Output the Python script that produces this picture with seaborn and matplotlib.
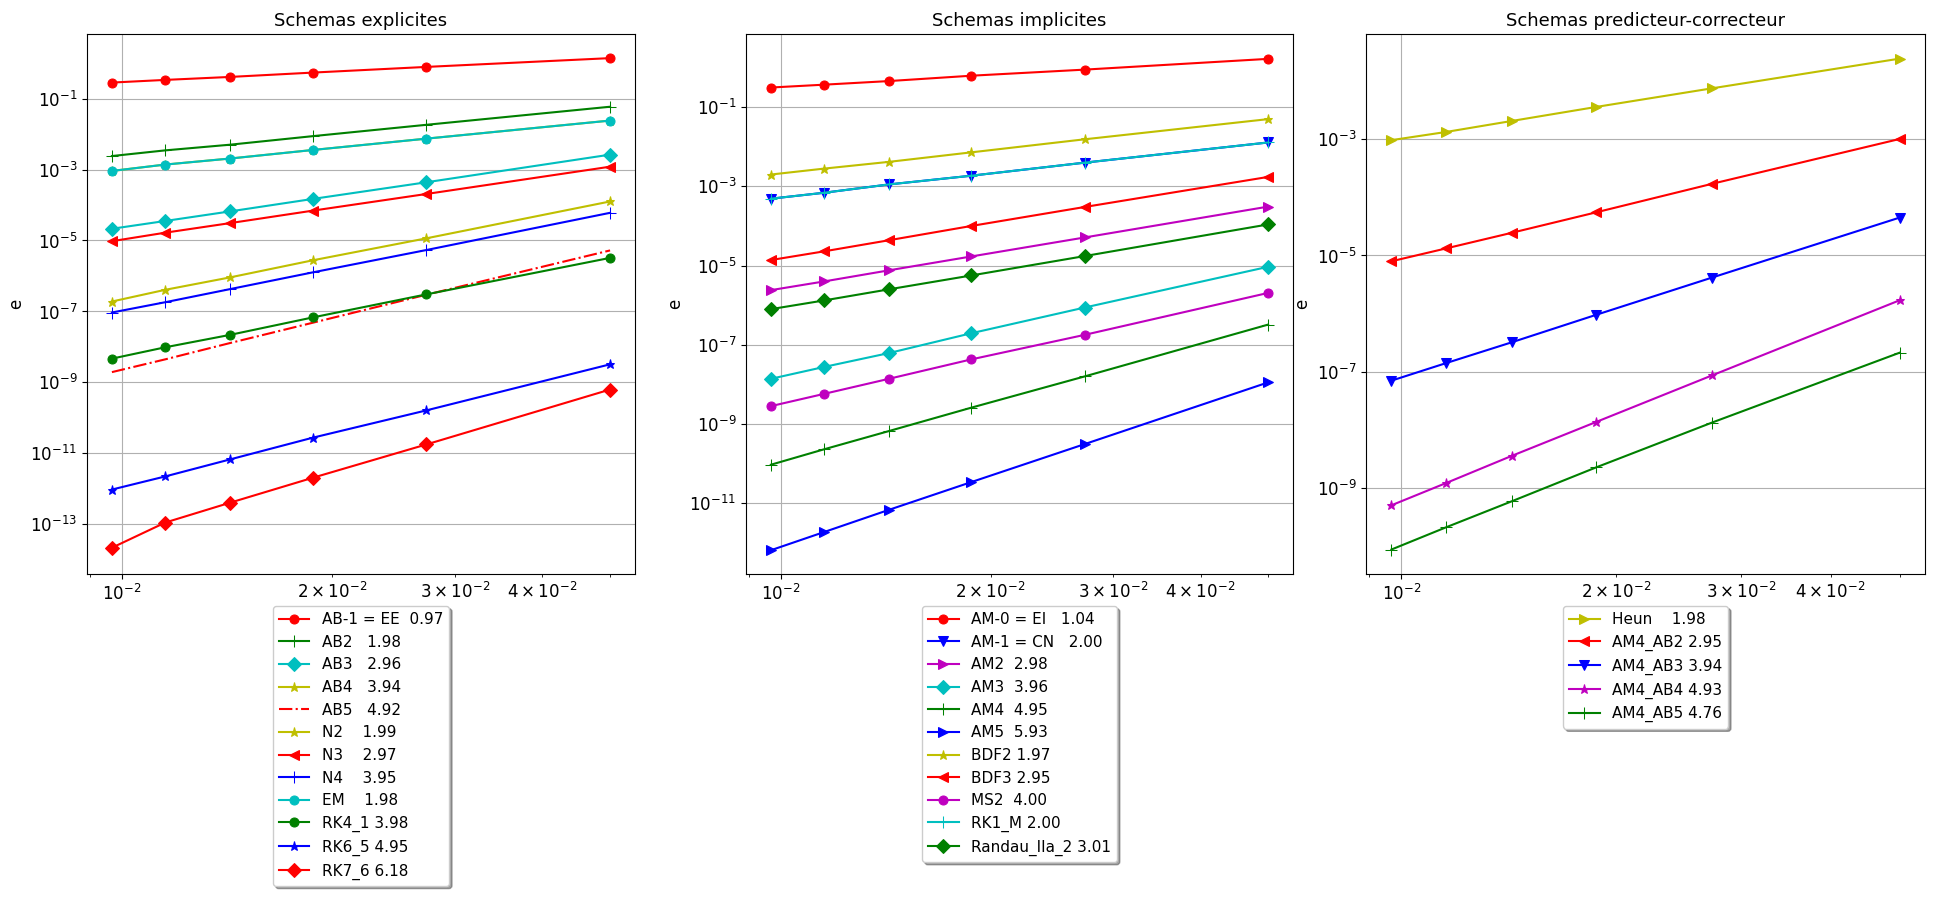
import numpy as np
import pandas as pd
import matplotlib
matplotlib.use("Agg")
import matplotlib.pyplot as plt
import seaborn as sns
from matplotlib.ticker import FixedLocator, NullLocator

h = [0.00968, 0.01154, 0.01429, 0.01875, 0.02727, 0.05]

# panel 1 : log10 of errors
exp_labels = ["AB-1 = EE  0.97", "AB2   1.98", "AB3   2.96", "AB4   3.94", "AB5   4.92",
              "N2    1.99", "N3    2.97", "N4    3.95", "EM    1.98", "RK4_1 3.98",
              "RK6_5 4.95", "RK7_6 6.18"]
exp_logs = [
    [-0.549, -0.474, -0.39, -0.268, -0.108, 0.14],
    [-2.62, -2.46, -2.30, -2.06, -1.74, -1.23],
    [-4.67, -4.45, -4.18, -3.83, -3.36, -2.58],
    [-3.04, -2.86, -2.69, -2.45, -2.13, -1.62],
    [-8.71, -8.35, -7.89, -7.32, -6.53, -5.28],
    [-6.72, -6.39, -6.04, -5.56, -4.94, -3.90],
    [-5.02, -4.78, -4.51, -4.16, -3.69, -2.92],
    [-7.03, -6.74, -6.37, -5.90, -5.27, -4.22],
    [-3.04, -2.86, -2.69, -2.45, -2.13, -1.62],
    [-8.33, -8.01, -7.66, -7.17, -6.52, -5.49],
    [-12.02, -11.65, -11.17, -10.56, -9.79, -8.49],
    [-13.66, -12.95, -12.39, -11.69, -10.75, -9.20],
]
exp_styles = [("r", "o", "-"), ("g", "+", "-"), ("c", "D", "-"), ("y", "*", "-"), ("r", None, "-."),
              ("y", "*", "-"), ("r", "<", "-"), ("b", "+", "-"), ("c", "o", "-"), ("g", "o", "-"),
              ("b", "*", "-"), ("r", "D", "-")]

imp_labels = ["AM-0 = EI   1.04", "AM-1 = CN   2.00", "AM2  2.98", "AM3  3.96", "AM4  4.95",
              "AM5  5.93", "BDF2 1.97", "BDF3 2.95", "MS2  4.00", "RK1_M 2.00", "Randau_IIa_2 3.01"]
imp_logs = [
    [-0.502, -0.430, -0.339, -0.204, -0.050, 0.222],
    [-3.31, -3.16, -2.95, -2.73, -2.40, -1.89],
    [-5.62, -5.40, -5.12, -4.77, -4.29, -3.51],
    [-7.86, -7.56, -7.21, -6.71, -6.06, -5.03],
    [-10.03, -9.64, -9.18, -8.59, -7.80, -6.49],
    [-12.19, -11.73, -11.17, -10.47, -9.51, -7.95],
    [-2.70, -2.55, -2.38, -2.14, -1.81, -1.30],
    [-4.86, -4.64, -4.36, -4.00, -3.52, -2.76],
    [-8.55, -8.24, -7.86, -7.37, -6.75, -5.69],
    [-3.31, -3.16, -2.95, -2.73, -2.40, -1.89],
    [-6.10, -5.88, -5.60, -5.25, -4.76, -3.96],
]
imp_styles = [("r", "o", "-"), ("b", "v", "-"), ("m", ">", "-"), ("c", "D", "-"), ("g", "+", "-"),
              ("b", ">", "-"), ("y", "*", "-"), ("r", "<", "-"), ("m", "o", "-"), ("c", "+", "-"),
              ("g", "D", "-")]

pc_labels = ["Heun    1.98", "AM4_AB2 2.95", "AM4_AB3 3.94", "AM4_AB4 4.93", "AM4_AB5 4.76"]
pc_logs = [
    [-3.02, -2.88, -2.69, -2.45, -2.13, -1.62],
    [-5.10, -4.88, -4.61, -4.26, -3.77, -3.00],
    [-7.15, -6.85, -6.49, -6.02, -5.38, -4.35],
    [-9.29, -8.91, -8.44, -7.86, -7.06, -5.77],
    [-10.05, -9.67, -9.22, -8.64, -7.87, -6.67],
]
pc_styles = [("y", ">", "-"), ("r", "<", "-"), ("b", "v", "-"), ("m", "*", "-"), ("g", "+", "-")]

titles = ["Schemas explicites", "Schemas implicites", "Schemas predicteur-correcteur"]
ylims = [(0.82, -14.4), (0.85, -12.79), (-1.197, -10.47)]
yticks = [np.arange(-13, 0, 2), np.arange(-11, 0, 2), np.arange(-9, -2, 2)]

plt.rcParams["font.size"] = 12
fig = plt.figure(figsize=(19.57, 9.06), dpi=100)
boxes = [(87, 635), (746, 1293), (1366, 1925)]
W, H = 1957, 906
axes = []
for (x0, x1) in boxes:
    axes.append(fig.add_axes([x0 / W, 1 - 574 / H, (x1 - x0) / W, (574 - 34) / H]))

groups = [(exp_labels, exp_logs, exp_styles), (imp_labels, imp_logs, imp_styles),
          (pc_labels, pc_logs, pc_styles)]
for i, (ax, (labels, logs, styles)) in enumerate(zip(axes, groups)):
    for lab, lg, (c, m, ls) in zip(labels, logs, styles):
        df = pd.DataFrame({"h": h, "e": 10.0 ** np.array(lg)})
        ms = 7 if m == "D" else (8 if m == "+" else 6.5)
        sns.lineplot(data=df, x="h", y="e", ax=ax, color=c, marker=m if m else "",
                     linestyle=ls, label=lab, markersize=ms, markeredgecolor=c,
                     linewidth=1.5, legend=False)
    ax.set_xscale("log")
    ax.set_yscale("log")
    ax.set_ylim(10 ** ylims[i][1], 10 ** ylims[i][0])
    ax.yaxis.set_major_locator(FixedLocator(10.0 ** yticks[i]))
    ax.yaxis.set_minor_locator(NullLocator())
    ax.grid(True, which="major", color="#b0b0b0", linewidth=0.8)
    ax.set_title(titles[i], fontsize=13)
    ax.set_xlabel("")
    ax.set_ylabel("e")
    ax.legend(loc="upper center", bbox_to_anchor=(0.5, -0.045), shadow=True,
              fancybox=True, fontsize=11, framealpha=1)

fig.savefig("out.png", dpi=100)
